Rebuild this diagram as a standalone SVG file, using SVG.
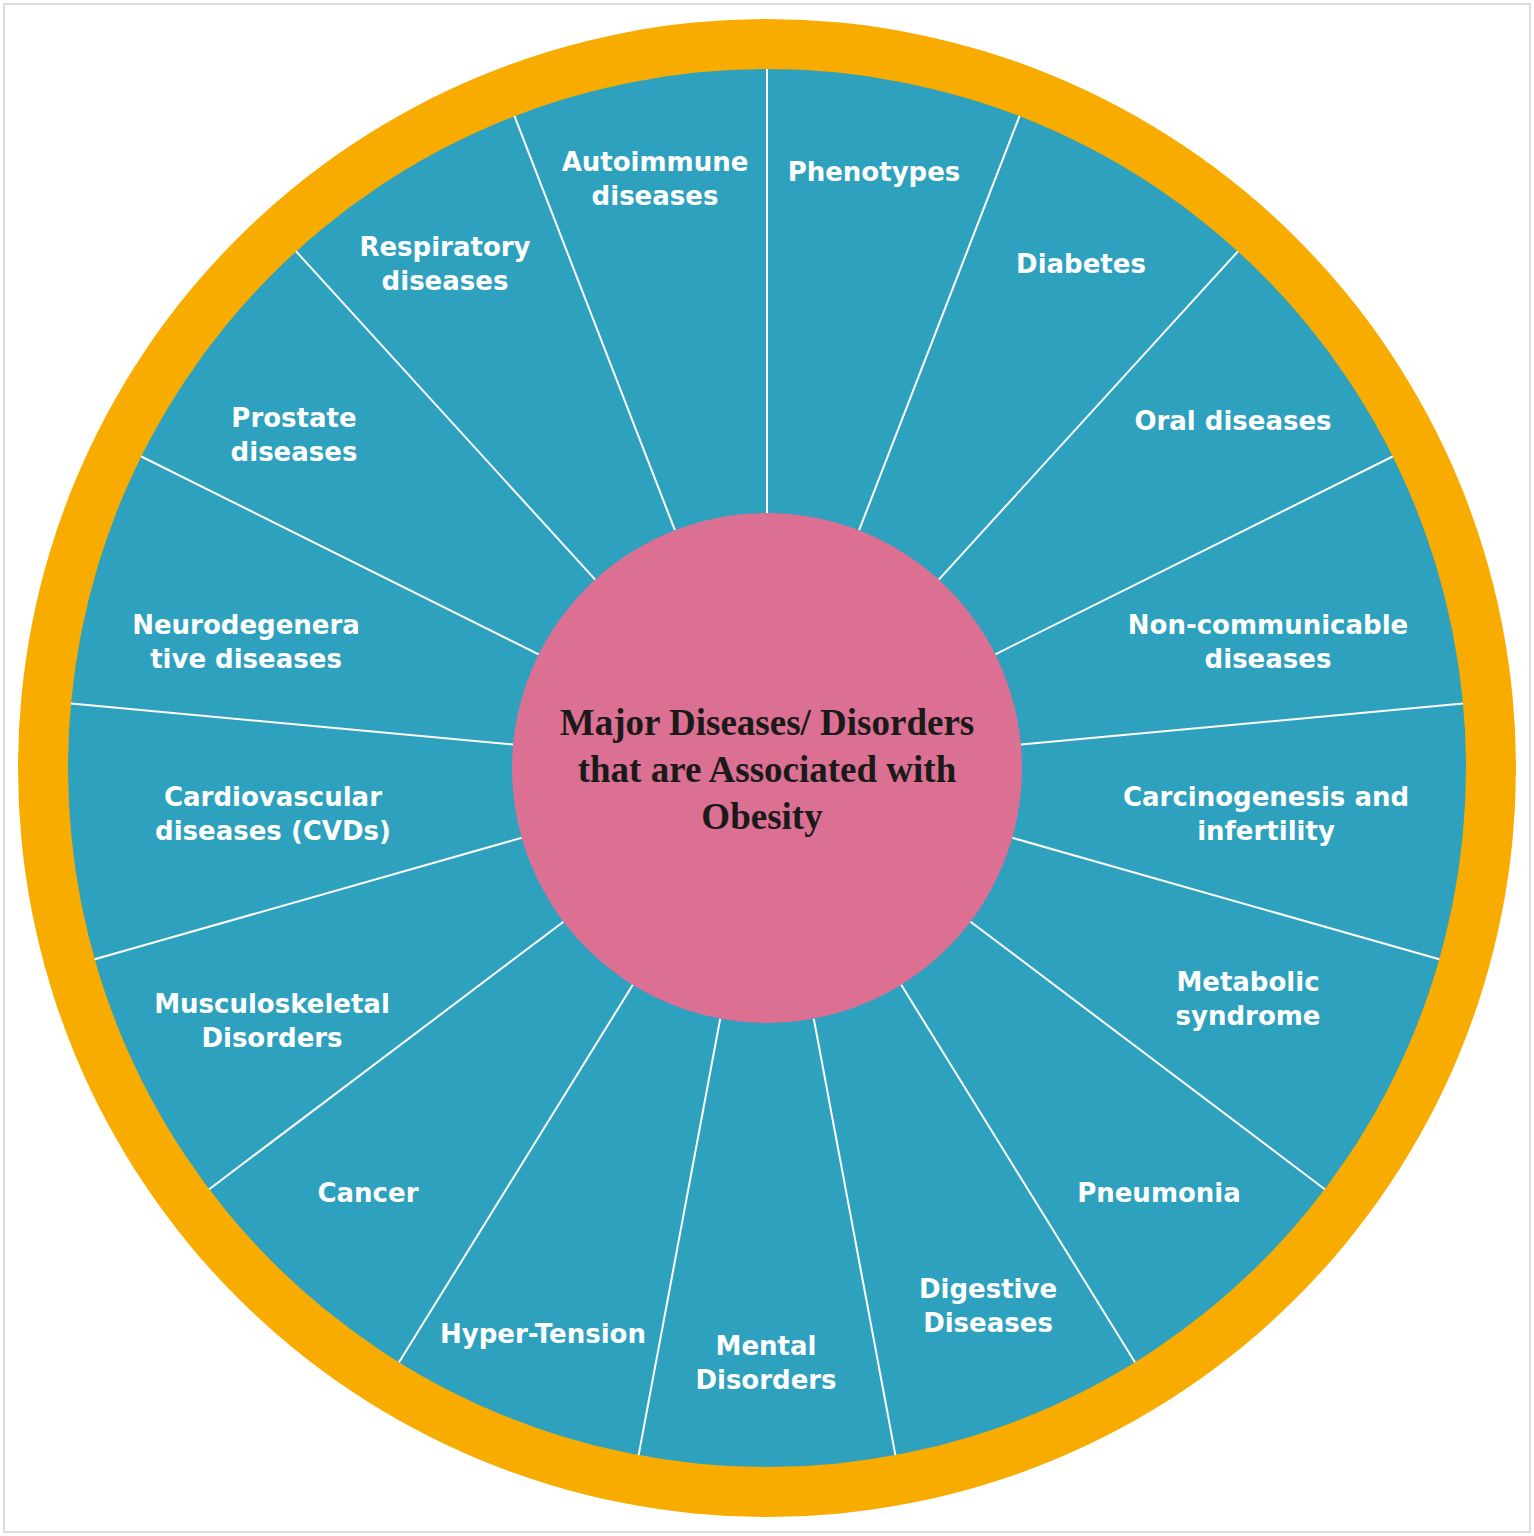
<svg xmlns="http://www.w3.org/2000/svg" width="1534" height="1536" viewBox="0 0 1534 1536">
<style>
.l{font-family:"DejaVu Sans",sans-serif;font-weight:bold;font-size:26px;fill:#fff;text-anchor:middle}
.c{font-family:"Liberation Serif",serif;font-weight:bold;font-size:37px;fill:#1a1a1a;text-anchor:middle}
</style>
<rect x="0" y="0" width="1534" height="1536" fill="#fff"/>
<rect x="4" y="4" width="1526" height="1528" fill="none" stroke="#ddd" stroke-width="2"/>
<g id="ring"><circle cx="767" cy="768" r="749" fill="#F9AC00"/><circle cx="767" cy="768" r="699" fill="#2EA1BE"/></g>
<g id="connectors" stroke="#fff" stroke-width="2">
<line x1="767" y1="513" x2="767" y2="69"/>
<line x1="859.1" y1="530.2" x2="1019.5" y2="116.2"/>
<line x1="938.8" y1="579.6" x2="1237.9" y2="251.4"/>
<line x1="995.3" y1="654.3" x2="1392.7" y2="456.5"/>
<line x1="1020.9" y1="744.5" x2="1463" y2="703.5"/>
<line x1="1012.3" y1="837.8" x2="1439.3" y2="959.3"/>
<line x1="970.5" y1="921.7" x2="1324.8" y2="1189.2"/>
<line x1="901.2" y1="984.8" x2="1135" y2="1362.3"/>
<line x1="813.8" y1="1018.7" x2="895.4" y2="1455.1"/>
<line x1="720.2" y1="1018.7" x2="638.6" y2="1455.1"/>
<line x1="632.8" y1="984.8" x2="399" y2="1362.3"/>
<line x1="563.5" y1="921.7" x2="209.2" y2="1189.2"/>
<line x1="521.7" y1="837.8" x2="94.7" y2="959.3"/>
<line x1="513.1" y1="744.5" x2="71" y2="703.5"/>
<line x1="538.7" y1="654.3" x2="141.3" y2="456.5"/>
<line x1="595.2" y1="579.6" x2="296.1" y2="251.4"/>
<line x1="674.9" y1="530.2" x2="514.5" y2="116.2"/>
</g>
<g id="center"><circle cx="767" cy="768" r="255" fill="#DB7093"/>
<text class="c" x="767" y="735">Major Diseases/ Disorders</text>
<text class="c" x="767" y="782">that are Associated with</text>
<text class="c" x="762" y="829">Obesity</text></g>
<g id="n1"><text class="l" x="655" y="171">Autoimmune</text><text class="l" x="655" y="205">diseases</text></g>
<g id="n2"><text class="l" x="874" y="181">Phenotypes</text></g>
<g id="n3"><text class="l" x="1081" y="273">Diabetes</text></g>
<g id="n4"><text class="l" x="1233" y="430">Oral diseases</text></g>
<g id="n5"><text class="l" x="1268" y="634">Non-communicable</text><text class="l" x="1268" y="668">diseases</text></g>
<g id="n6"><text class="l" x="1266" y="806">Carcinogenesis and</text><text class="l" x="1266" y="840">infertility</text></g>
<g id="n7"><text class="l" x="1248" y="991">Metabolic</text><text class="l" x="1248" y="1025">syndrome</text></g>
<g id="n8"><text class="l" x="1159" y="1202">Pneumonia</text></g>
<g id="n9"><text class="l" x="988" y="1298">Digestive</text><text class="l" x="988" y="1332">Diseases</text></g>
<g id="n10"><text class="l" x="766" y="1355">Mental</text><text class="l" x="766" y="1389">Disorders</text></g>
<g id="n11"><text class="l" x="543" y="1343">Hyper-Tension</text></g>
<g id="n12"><text class="l" x="368" y="1202">Cancer</text></g>
<g id="n13"><text class="l" x="272" y="1013">Musculoskeletal</text><text class="l" x="272" y="1047">Disorders</text></g>
<g id="n14"><text class="l" x="273" y="806">Cardiovascular</text><text class="l" x="273" y="840">diseases (CVDs)</text></g>
<g id="n15"><text class="l" x="246" y="634">Neurodegenera</text><text class="l" x="246" y="668">tive diseases</text></g>
<g id="n16"><text class="l" x="294" y="427">Prostate</text><text class="l" x="294" y="461">diseases</text></g>
<g id="n17"><text class="l" x="445" y="256">Respiratory</text><text class="l" x="445" y="290">diseases</text></g>
</svg>
